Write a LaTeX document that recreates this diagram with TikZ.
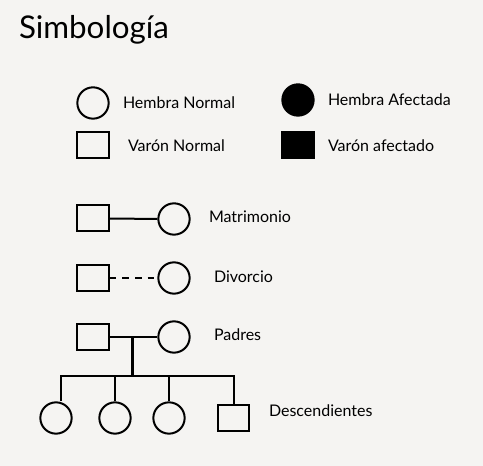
\documentclass[tikz,border=0pt]{standalone}
\usepackage{fontspec}
\setmainfont{Lato}
\usepackage{tikz}
\usetikzlibrary{positioning}
\definecolor{fondo}{HTML}{F5F4F2}

\begin{document}
\begin{tikzpicture}[x=0.75pt, y=-0.75pt, line width=1.5pt,
	hembra/.style = {draw, circle, inner sep=0pt, minimum size=23.5pt},
	varon/.style = {draw, rectangle, inner sep=0pt, minimum width=23.5pt, minimum height=19.5pt},
	afectado/.style = {fill=black},
	etiqueta/.style = {anchor=west, inner sep=0pt, font=\fontsize{12}{14}\selectfont}]
		\fill[fondo] (0,0) rectangle (483,466);
		\useasboundingbox (0,0) rectangle (483,466);

		\node[anchor=base west, inner sep=0pt, font=\fontsize{23.5}{26}\selectfont] (titulo) at (18,39) {Simbología};

		% leyenda
		\node[hembra] (hn) at (93,103) {};
		\node[etiqueta] at (122,103) {Hembra Normal};
		\node[hembra, afectado] (ha) at (298,100) {};
		\node[etiqueta] at (327,100) {Hembra Afectada};
		\node[varon] (vn) at (93,145.5) {};
		\node[etiqueta] at (127,146) {Varón Normal};
		\node[varon, afectado] (va) at (298,145.5) {};
		\node[etiqueta] at (327,146) {Varón afectado};

		% uniones
		\node[varon] (mv) at (93,218.5) {};
		\node[hembra] (mh) at (174,219) {};
		\node[etiqueta] at (208,217) {Matrimonio};
		\draw (mv) -- (mh);

		\node[varon] (dv) at (93,278) {};
		\node[hembra] (dh) at (174,278) {};
		\node[etiqueta] at (213,277) {Divorcio};
		\draw[dash pattern=on 5pt off 4.5pt] (dv) -- (dh);

		% padres y descendientes
		\node[varon] (pv) at (93,337) {};
		\node[hembra] (ph) at (174,337) {};
		\node[etiqueta] at (213,335) {Padres};
		\draw (pv) -- (ph);
		\coordinate (union) at (132.5,337);
		\coordinate (barra) at (132.5,376);

		\node[hembra] (d1) at (56,418) {};
		\node[hembra] (d2) at (115,418) {};
		\node[hembra] (d3) at (169,418) {};
		\node[varon] (d4) at (233.5,418) {};
		\node[etiqueta] at (268,411) {Descendientes};

		\draw[line width=2pt] (union) -- (barra);
		\draw (d1.north -| 60.5,0) |- (barra) -| (d4.north);
		\foreach \h in {d2, d3}
			\draw (barra -| \h.north) -- (\h.north);
	\end{tikzpicture}
\end{document}
